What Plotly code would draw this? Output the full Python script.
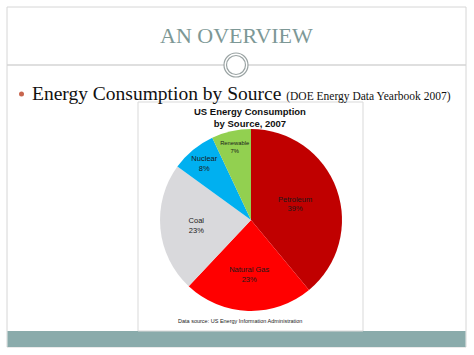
import plotly.graph_objects as go

W, H = 474, 355

# Data
sources = ["Petroleum", "Natural Gas", "Coal", "Nuclear", "Renewable"]
shares = [39, 23, 23, 8, 7]
colors = ["#c00000", "#ff0000", "#d9d9dc", "#00b0f0", "#92d050"]

slide_title = "AN OVERVIEW"
bullet_text = "Energy Consumption by Source"
bullet_note = "(DOE Energy Data Yearbook 2007)"
chart_title = "US Energy Consumption<br>by Source, 2007"
source_note = "Data source: US Energy Information Administration"


def px(x):
    return x / W


def py(y):
    return 1 - y / H


fig = go.Figure()

fig.add_trace(go.Pie(
    labels=sources,
    values=shares,
    marker=dict(colors=colors, line=dict(width=0)),
    sort=False,
    direction="clockwise",
    rotation=0,
    texttemplate="%{label}<br>%{percent:.0%}",
    textposition="inside",
    insidetextorientation="horizontal",
    textfont=dict(family="Liberation Sans, Arial", size=7.5, color="#1a1a1a"),
    hoverinfo="label+percent",
    showlegend=False,
    domain=dict(x=[px(160), px(342)], y=[py(311), py(129)]),
))

shapes = [
    # slide border
    dict(type="rect", xref="paper", yref="paper", x0=px(7), x1=px(466), y0=py(347), y1=py(7),
         line=dict(color="#d6d6d6", width=1), fillcolor="rgba(0,0,0,0)", layer="below"),
    # bottom band
    dict(type="rect", xref="paper", yref="paper", x0=px(7.5), x1=px(465.5), y0=py(347), y1=py(331),
         line=dict(width=0), fillcolor="#8aabab", layer="below"),
    # header divider
    dict(type="line", xref="paper", yref="paper", x0=px(7), x1=px(466), y0=py(65), y1=py(65),
         line=dict(color="#d4d4d4", width=1.5), layer="below"),
    # ornament circles
    dict(type="circle", xref="paper", yref="paper", x0=px(236 - 12), x1=px(236 + 12),
         y0=py(65 + 12), y1=py(65 - 12), line=dict(color="#9aa3a3", width=1.2), fillcolor="white"),
    dict(type="circle", xref="paper", yref="paper", x0=px(236 - 9.5), x1=px(236 + 9.5),
         y0=py(65 + 9.5), y1=py(65 - 9.5), line=dict(color="#9aa3a3", width=1.2), fillcolor="white"),
    # bullet
    dict(type="circle", xref="paper", yref="paper", x0=px(19), x1=px(24),
         y0=py(96.5), y1=py(91.5), line=dict(width=0), fillcolor="#c8664f"),
    # chart box
    dict(type="rect", xref="paper", yref="paper", x0=px(138), x1=px(363), y0=py(331), y1=py(102),
         line=dict(color="#d9d9d9", width=1), fillcolor="white", layer="below"),
]

annotations = [
    dict(text=slide_title, xref="paper", yref="paper", x=px(236), y=py(36),
         xanchor="center", yanchor="middle", showarrow=False,
         font=dict(family="Liberation Serif, Times New Roman", size=22, color="#7d9896")),
    dict(text=f"{bullet_text} <span style='font-size:11.5px'>{bullet_note}</span>",
         xref="paper", yref="paper", x=px(30), y=py(93),
         xanchor="left", yanchor="middle", showarrow=False,
         font=dict(family="Liberation Serif, Times New Roman", size=19.5, color="#111111")),
    dict(text=f"<b>{chart_title}</b>", xref="paper", yref="paper", x=px(250), y=py(117),
         xanchor="center", yanchor="middle", showarrow=False,
         font=dict(family="Liberation Sans, Arial", size=9.5, color="#111111")),
    dict(text=source_note, xref="paper", yref="paper", x=px(240), y=py(321),
         xanchor="center", yanchor="middle", showarrow=False,
         font=dict(family="Liberation Sans, Arial", size=5.5, color="#222222")),
]

fig.update_layout(
    width=W, height=H,
    margin=dict(l=0, r=0, t=0, b=0),
    paper_bgcolor="white",
    plot_bgcolor="white",
    shapes=shapes,
    annotations=annotations,
)

fig.write_html(
    "out.html",
    config={"displayModeBar": False},
    post_script="document.body.style.margin='0';document.body.style.overflow='hidden';",
)
